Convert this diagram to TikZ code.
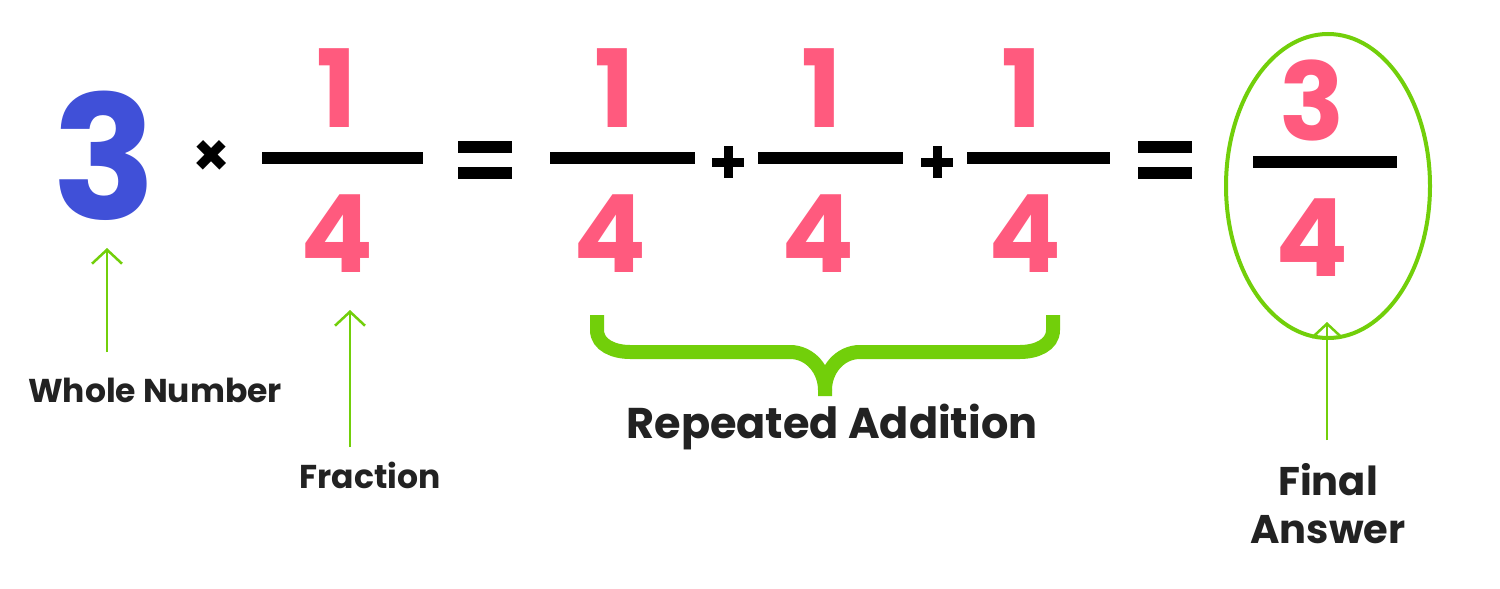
\documentclass[tikz,border=0pt]{standalone}
\usepackage{fontspec}
\setmainfont{Poppins}
\usetikzlibrary{arrows.meta}
\definecolor{pk}{HTML}{FF5A7E}
\definecolor{bl}{HTML}{4050D8}
\definecolor{gr}{HTML}{72CF0A}
\definecolor{tx}{HTML}{222222}
\begin{document}
\begin{tikzpicture}[x=1pt,y=-1pt,
 num/.style={text=pk,font=\fontsize{108}{108}\selectfont\bfseries,inner sep=0},
 bar/.style={line width=12pt,black},
 arr/.style={gr,line width=2.5pt,-{Straight Barb[length=14pt,width=30pt,line width=2.5pt]}},
 lab/.style={text=tx,font=\fontsize{33}{40}\selectfont\bfseries,align=center,inner sep=0}]
\useasboundingbox[fill=white] (0,0) rectangle (1500,589);
\node[text=bl,font=\fontsize{172}{172}\selectfont\bfseries,inner sep=0] (three) at (105,156) {3};
\node[font=\fontsize{60}{60}\selectfont\bfseries,inner sep=0] (times) at (212,158) {×};
% fraction 1
\draw[bar] (262,158) -- (423,158);
\node[num] (n1) at (337,88) {1};
\node[num] (d1) at (337,234) {4};
% equals
\foreach \x in {485,1165}{\draw[bar] (\x-27,147)--(\x+27,147); \draw[bar] (\x-27,173)--(\x+27,173);}
% fractions
\draw[bar] (550,158) -- (695,158);
\draw[bar] (758,158) -- (903,158);
\draw[bar] (967,158) -- (1110,158);
\node[num] (n2) at (615,88) {1};
\node[num] (n3) at (822,88) {1};
\node[num] (n4) at (1022,88) {1};
\node[num] (d2) at (610,234) {4};
\node[num] (d3) at (818,234) {4};
\node[num] (d4) at (1025,234) {4};
\foreach \x in {728,937}{\draw[line width=9pt] (\x-16,162)--(\x+16,162); \draw[line width=9pt] (\x,146)--(\x,178);}
% final
\draw[bar] (1253,162) -- (1397,162);
\node[num] (n5) at (1312,100) {3};
\node[num] (d5) at (1312,238) {4};
\draw[gr,line width=4pt] (1328,186) ellipse [x radius=102,y radius=152];
% arrows
\coordinate (a1) at (107,352); \coordinate (b1) at (107,248);
\coordinate (a2) at (350,447); \coordinate (b2) at (350,310);
\coordinate (a3) at (1327,440); \coordinate (b3) at (1327,322);
\draw[arr] (a1) -- (b1);
\draw[arr] (a2) -- (b2);
\draw[arr] (a3) -- (b3);
% brace
\draw[gr,line width=14pt] (597,315) -- (597,330) to[out=-90,in=180] (630,352) -- (790,352) to[out=0,in=90] (825,390) -- (825,396);
\draw[gr,line width=14pt] (1053,315) -- (1053,330) to[out=-90,in=0] (1020,352) -- (860,352) to[out=180,in=90] (825,390);
% labels
\node[lab] (l1) at (155,390) {Whole Number};
\node[lab] (l2) at (370,475) {Fraction};
\node[lab,font=\fontsize{43}{48}\selectfont\bfseries] (l3) at (832,427) {Repeated Addition};
\node[lab,font=\fontsize{40}{48}\selectfont\bfseries] (l4) at (1328,504) {Final\\Answer};
\end{tikzpicture}
\end{document}
